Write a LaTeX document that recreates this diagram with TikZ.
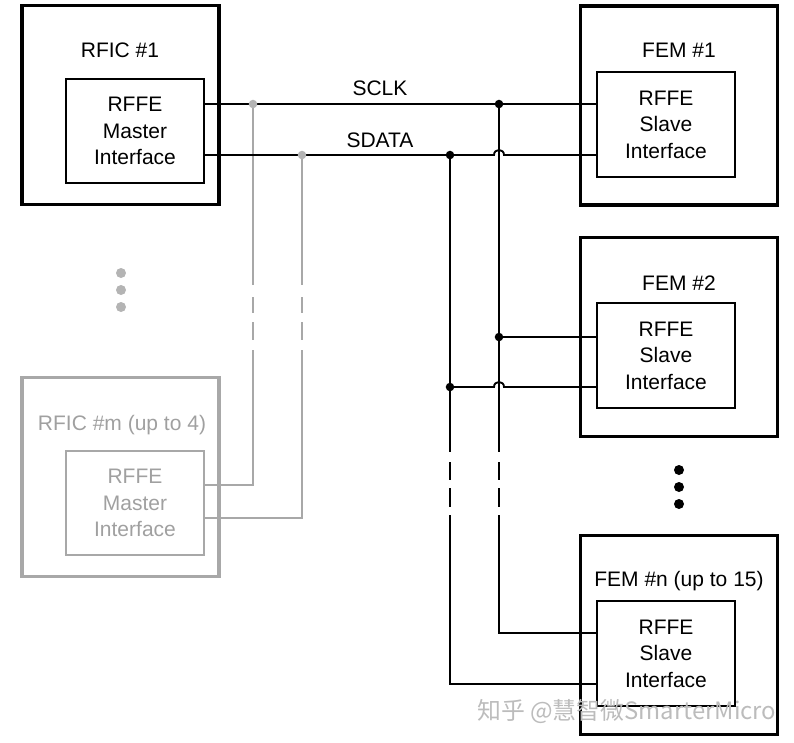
\documentclass[tikz,border=0pt]{standalone}
\usepackage{fontspec}
\setmainfont{Liberation Sans}
\newfontfamily\cjk{Noto Sans CJK SC}
\definecolor{lg}{HTML}{A8A8A8}
\definecolor{lgt}{HTML}{A0A0A0}
\definecolor{lgd}{HTML}{B4B4B4}
\definecolor{wm}{HTML}{BCBCBC}
\begin{document}
\begin{tikzpicture}[x=0.75pt,y=-0.75pt,
  font=\fontsize{15.75pt}{19.9pt}\selectfont,
  outerbox/.style={draw,line width=2.5pt,minimum width=147.75pt,minimum height=149.25pt,inner sep=0pt},
  innerbox/.style={draw,line width=1.3pt,minimum width=103.5pt,minimum height=78.4pt,inner sep=0pt,align=center},
  lbl/.style={inner sep=0pt},
  sig/.style={line width=1.4pt},
  gsig/.style={line width=1.4pt,draw=lg},
  dot/.style={radius=3.2pt}
]
\useasboundingbox (0,0) rectangle (794,743);

% boxes
\node[outerbox] (rfic1) at (120.5,105) {};
\node[innerbox] (m1) at (135,131) {RFFE\\Master\\Interface};
\node[lbl] (rfic1l) at (120,50) {RFIC \#1};

\node[outerbox] (fem1) at (679,105.5) {};
\node[innerbox] (s1) at (666,124.5) {RFFE\\Slave\\Interface};
\node[lbl] (fem1l) at (679,50) {FEM \#1};

\node[outerbox] (fem2) at (679,337) {};
\node[innerbox] (s2) at (666,355.5) {RFFE\\Slave\\Interface};
\node[lbl] (fem2l) at (679,283) {FEM \#2};

\node[outerbox] (femn) at (679,635) {};
\node[innerbox] (sn) at (666,653.5) {RFFE\\Slave\\Interface};
\node[lbl] (femnl) at (679,581) {FEM \#n (up to 15)};

\node[outerbox,draw=lg] (rficm) at (120.5,477) {};
\node[innerbox,draw=lg,text=lgt] (mm) at (135,503) {RFFE\\Master\\Interface};
\node[lbl,text=lgt] (rficml) at (122,425) {RFIC \#m (up to 4)};

% signal labels
\node[lbl] (sclkl) at (380,88) {SCLK};
\node[lbl] (sdatal) at (380,140) {SDATA};

% coordinates
\coordinate (ck0) at (204,104);
\coordinate (gck) at (253,104);
\coordinate (jck) at (499,104);
\coordinate (ck1) at (597,104);
\coordinate (dt0) at (204,155);
\coordinate (gdt) at (302,155);
\coordinate (jdt) at (450,155);
\coordinate (dt1) at (597,155);
\coordinate (jck2) at (499,337);
\coordinate (ck2) at (597,337);
\coordinate (jdt2) at (450,387);
\coordinate (dt2) at (597,387);
\coordinate (ckc) at (499,633);
\coordinate (ckn) at (597,633);
\coordinate (dtc) at (450,684);
\coordinate (dtn) at (597,684);
\coordinate (gckc) at (253,485);
\coordinate (gckm) at (204,485);
\coordinate (gdtc) at (302,518);
\coordinate (gdtm) at (204,518);

% gray connectors
\draw[gsig,dash pattern=on 135.75pt off 9pt on 12pt off 6.75pt on 13.5pt off 7.5pt on 400pt] (gck) -- (gckc) -- (gckm);
\draw[gsig,dash pattern=on 97.5pt off 9pt on 12pt off 6.75pt on 13.5pt off 7.5pt on 400pt] (gdt) -- (gdtc) -- (gdtm);

% black connectors
\draw[sig] (ck0) -- (ck1);
\draw[sig] (dt0) -- (494,155) .. controls (494,148.3) and (504,148.3) .. (504,155) -- (dt1);
\draw[sig] (jck2) -- (ck2);
\draw[sig] (jdt2) -- (494,387) .. controls (494,380.3) and (504,380.3) .. (504,387) -- (dt2);
\draw[sig,dash pattern=on 261pt off 7.5pt on 13.5pt off 6pt on 14.25pt off 6pt on 400pt] (jck) -- (ckc) -- (ckn);
\draw[sig,dash pattern=on 222.75pt off 7.5pt on 13.5pt off 6pt on 14.25pt off 6pt on 400pt] (jdt) -- (dtc) -- (dtn);

% junction dots
\fill (jck) circle[dot];
\fill (jdt) circle[dot];
\fill (jck2) circle[dot];
\fill (jdt2) circle[dot];
\fill[lgd] (gck) circle[dot];
\fill[lgd] (gdt) circle[dot];

% ellipses
\fill[lgd] (121,273) circle[radius=3.75pt];
\fill[lgd] (121,290) circle[radius=3.75pt];
\fill[lgd] (121,307) circle[radius=3.75pt];
\fill (679,470) circle[radius=3.75pt];
\fill (679,487) circle[radius=3.75pt];
\fill (679,504) circle[radius=3.75pt];

% watermark
\node[text=wm,inner sep=0pt,anchor=west,font=\cjk\fontsize{17.9pt}{20pt}\selectfont] (wmk) at (477,711) {知乎 @慧智微SmarterMicro};
\end{tikzpicture}
\end{document}
